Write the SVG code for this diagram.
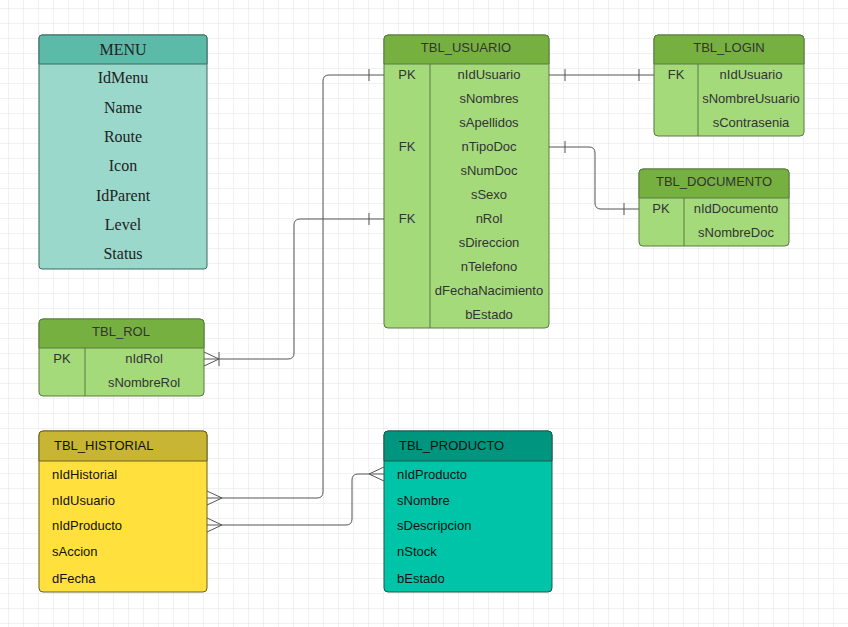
<svg xmlns="http://www.w3.org/2000/svg" width="848" height="627" viewBox="0 0 848 627">
<defs>
<pattern id="g" width="15" height="15" patternUnits="userSpaceOnUse" x="-6" y="-6"><path d="M15 0V15H0" fill="none" stroke="#e3e3e3" stroke-width="1"/></pattern>
<style>
.b{stroke:#5a6a4a;stroke-width:1}
.t{font-family:"Liberation Sans",Arial,sans-serif;font-size:13px;fill:#333}
.s{font-family:"Liberation Serif","Times New Roman",serif;font-size:16px;fill:#222}
.m{text-anchor:middle}
.c{fill:none;stroke:#555;stroke-width:1}
</style>
</defs>
<rect width="848" height="627" fill="#fff"/>
<rect width="848" height="627" fill="url(#g)"/>
<g id="menu">
<rect x="39" y="35" width="168" height="234" rx="3" fill="#9ad8cc" stroke="#3a6a60"/>
<path d="M39 64V38a3 3 0 0 1 3-3h162a3 3 0 0 1 3 3v26z" fill="#5bbaa8" stroke="#3a6a60"/>
<g class="s m"><text x="123" y="55">MENU</text><text x="123" y="83">IdMenu</text><text x="123" y="113">Name</text><text x="123" y="142">Route</text><text x="123" y="171">Icon</text><text x="123" y="201">IdParent</text><text x="123" y="230">Level</text><text x="123" y="259">Status</text></g>
</g>
<g id="usuario">
<rect x="384" y="35" width="165" height="293" rx="4" fill="#a4da7a" stroke="#5a7a40"/>
<path d="M384 64V39a4 4 0 0 1 4-4h157a4 4 0 0 1 4 4v25z" fill="#76b041" stroke="#5a7a40"/>
<line x1="430" y1="64" x2="430" y2="328" stroke="#5a7a40"/>
<g class="t m"><text x="466" y="52">TBL_USUARIO</text>
<text x="407" y="79">PK</text><text x="407" y="151">FK</text><text x="407" y="223">FK</text>
<text x="489" y="79">nIdUsuario</text><text x="489" y="103">sNombres</text><text x="489" y="127">sApellidos</text><text x="489" y="151">nTipoDoc</text><text x="489" y="175">sNumDoc</text><text x="489" y="199">sSexo</text><text x="489" y="223">nRol</text><text x="489" y="247">sDireccion</text><text x="489" y="271">nTelefono</text><text x="489" y="295">dFechaNacimiento</text><text x="489" y="319">bEstado</text></g>
</g>
<g id="login">
<rect x="654" y="35" width="150" height="101" rx="4" fill="#a4da7a" stroke="#5a7a40"/>
<path d="M654 64V39a4 4 0 0 1 4-4h142a4 4 0 0 1 4 4v25z" fill="#76b041" stroke="#5a7a40"/>
<line x1="698" y1="64" x2="698" y2="136" stroke="#5a7a40"/>
<g class="t m"><text x="729" y="52">TBL_LOGIN</text><text x="676" y="79">FK</text>
<text x="751" y="79">nIdUsuario</text><text x="751" y="103">sNombreUsuario</text><text x="751" y="127">sContrasenia</text></g>
</g>
<g id="documento">
<rect x="639" y="169" width="150" height="77" rx="4" fill="#a4da7a" stroke="#5a7a40"/>
<path d="M639 198V173a4 4 0 0 1 4-4h142a4 4 0 0 1 4 4v25z" fill="#76b041" stroke="#5a7a40"/>
<line x1="684" y1="198" x2="684" y2="246" stroke="#5a7a40"/>
<g class="t m"><text x="714" y="186">TBL_DOCUMENTO</text><text x="661" y="213">PK</text>
<text x="736" y="213">nIdDocumento</text><text x="736" y="237">sNombreDoc</text></g>
</g>
<g id="rol">
<rect x="39" y="319" width="165" height="77" rx="4" fill="#a4da7a" stroke="#5a7a40"/>
<path d="M39 348V323a4 4 0 0 1 4-4h157a4 4 0 0 1 4 4v25z" fill="#76b041" stroke="#5a7a40"/>
<line x1="85" y1="348" x2="85" y2="396" stroke="#5a7a40"/>
<g class="t m"><text x="121" y="336">TBL_ROL</text><text x="62" y="363">PK</text>
<text x="144" y="363">nIdRol</text><text x="144" y="387">sNombreRol</text></g>
</g>
<g id="historial">
<rect x="39" y="431" width="168" height="161" rx="4" fill="#ffe03d" stroke="#6a6020"/>
<path d="M39 461V435a4 4 0 0 1 4-4h160a4 4 0 0 1 4 4v26z" fill="#c9b534" stroke="#6a6020"/>
<g class="t" style="fill:#111"><text x="54" y="450">TBL_HISTORIAL</text>
<text x="52" y="479">nIdHistorial</text><text x="52" y="505">nIdUsuario</text><text x="52" y="530">nIdProducto</text><text x="52" y="556">sAccion</text><text x="52" y="583">dFecha</text></g>
</g>
<g id="producto">
<rect x="384" y="431" width="168" height="161" rx="4" fill="#00c4a8" stroke="#20584e"/>
<path d="M384 461V435a4 4 0 0 1 4-4h160a4 4 0 0 1 4 4v26z" fill="#00957f" stroke="#20584e"/>
<g class="t" style="fill:#111"><text x="399" y="450">TBL_PRODUCTO</text>
<text x="397" y="479">nIdProducto</text><text x="397" y="505">sNombre</text><text x="397" y="530">sDescripcion</text><text x="397" y="556">nStock</text><text x="397" y="583">bEstado</text></g>
</g>
<g id="connectors" class="c">
<path d="M549 75H654M565 69v12M639 69v12"/>
<path d="M549 147H589q6 0 6 6V203q0 6 6 6H639M565 141v12M624 203v12"/>
<path d="M384 75H329q-6 0-6 6V492q0 6-6 6H207M369 69v12M207 491L222 498L207 505"/>
<path d="M384 219H300q-6 0-6 6V353q0 6-6 6H204M369 213v12M219 352v14M204 352L219 359L204 366"/>
<path d="M207 525H346q6 0 6-6V480q0-6 6-6H384M207 518L222 525L207 532M384 467L369 474L384 481"/>
</g>
</svg>
